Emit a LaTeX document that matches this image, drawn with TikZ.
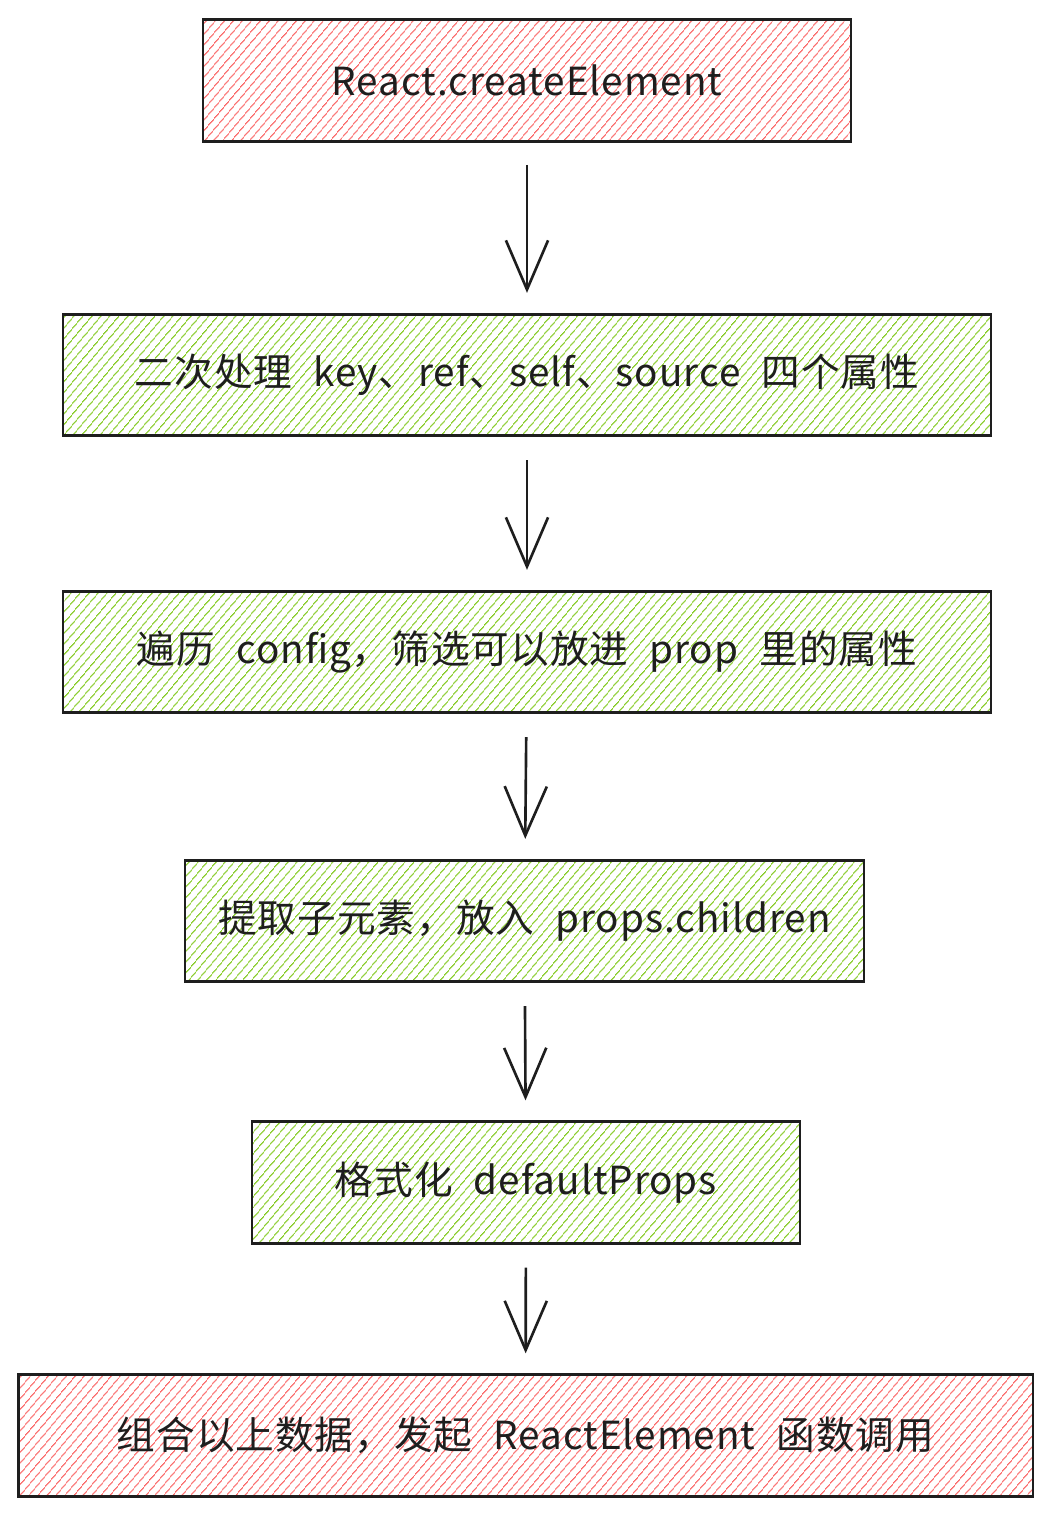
\documentclass[tikz,border=0pt]{standalone}
\usepackage{fontspec}
\newfontfamily\cjk[WordSpace={2.2},LetterSpace=2.5]{Noto Sans CJK SC}
\usetikzlibrary{arrows.meta,patterns.meta}
\definecolor{hatchred}{RGB}{250,100,100}
\definecolor{hatchgreen}{RGB}{130,201,30}
\definecolor{inkline}{RGB}{30,30,30}
\tikzset{
  flowbox/.style={draw=inkline, line width=1.6pt, minimum height=2.43cm,
    inner sep=0pt, font=\cjk\fontsize{22}{26}\selectfont, text=inkline},
  redbox/.style={flowbox, pattern={Lines[angle=50,distance=4pt,line width=0.7pt]}, pattern color=hatchred},
  greenbox/.style={flowbox, pattern={Lines[angle=50,distance=4pt,line width=0.7pt]}, pattern color=hatchgreen},
  flowarrow/.style={draw=inkline, line width=1.5pt, -{Straight Barb[length=28pt,width=24pt,line width=1.5pt]},
    shorten <=0.46cm, shorten >=0.4cm}
}
\begin{document}
\begin{tikzpicture}[x=0.02cm,y=-0.02cm]
      \useasboundingbox (0,0) rectangle (1052,1516);
      % Boxes
      \node[redbox, minimum width=12.96cm] (create) at (527,80.5) {React.createElement};
      \node[greenbox, minimum width=18.56cm] (attrs) at (527,375) {二次处理 key、ref、self、source 四个属性};
      \node[greenbox, minimum width=18.56cm] (config) at (527,652) {遍历 config，筛选可以放进 prop 里的属性};
      \node[greenbox, minimum width=13.58cm] (children) at (524.5,921) {提取子元素，放入 props.children};
      \node[greenbox, minimum width=10.96cm] (defaults) at (526,1182.5) {格式化 defaultProps};
      \node[redbox, minimum width=20.3cm] (element) at (525.5,1435.5) {组合以上数据，发起 ReactElement 函数调用};
      % Arrows
      \draw[flowarrow] (create) -- (attrs);
      \draw[flowarrow] (attrs) -- (config);
      \draw[flowarrow] (config) -- (children);
      \draw[flowarrow] (children) -- (defaults);
      \draw[flowarrow] (defaults) -- (element);
\end{tikzpicture}
\end{document}
